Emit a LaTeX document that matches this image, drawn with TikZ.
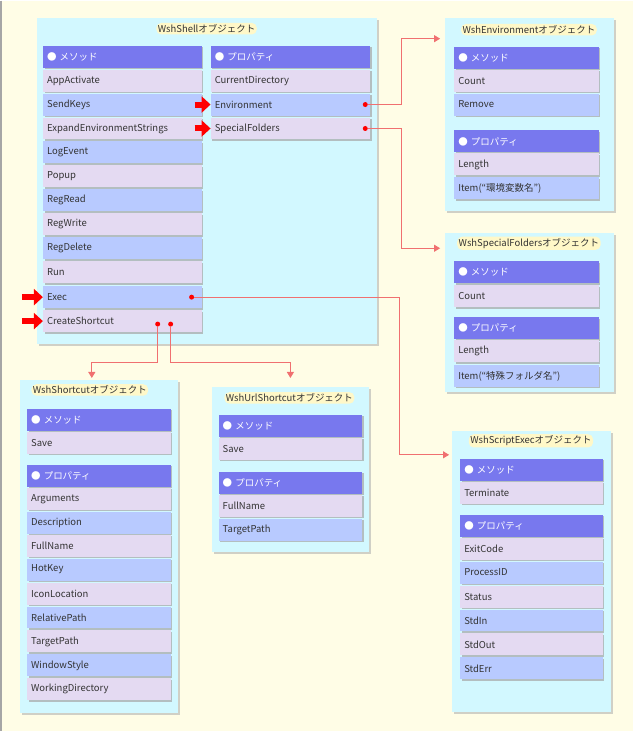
\documentclass[tikz,border=0pt]{standalone}
\usepackage{fontspec}
\setmainfont{Noto Sans CJK JP}
\usetikzlibrary{arrows.meta,shadows}
\definecolor{bg}{HTML}{FFFDE6}
\definecolor{pan}{HTML}{D2F8FF}
\definecolor{hd}{HTML}{7878EE}
\definecolor{lv}{HTML}{E4DAF2}
\definecolor{bl}{HTML}{B8CAFF}
\definecolor{ttl}{HTML}{FFF8C8}
\definecolor{ln}{HTML}{F07070}
\tikzset{
 panel/.style={fill=pan,draw=none,drop shadow={shadow xshift=2pt,shadow yshift=-2pt,fill=black!30,opacity=.6}},
 row/.style={draw=none,anchor=west,inner sep=0pt,align=left,minimum height=22pt,font=\fontsize{9.5}{10}\selectfont,text=black!80,drop shadow={shadow xshift=1.5pt,shadow yshift=-1.5pt,fill=black!35,opacity=.7}},
 ttl/.style={fill=ttl,rounded corners=5pt,inner sep=1.5pt,font=\fontsize{9.5}{10}\selectfont,text=black!80},
 conn/.style={draw=ln,line width=1pt},
 dot/.style={circle,fill=red,inner sep=0pt,minimum size=5pt},
 fat/.style={-{Triangle[length=9pt,width=16pt]},red,line width=6pt},
 tip/.style={-{Triangle[length=6pt,width=7pt]},conn}
}
\newcommand\RR[6]{\path (#2,#4) +(0,0) node[row,fill=#5,minimum width={(#3-#2)*1pt},text width={(#3-#2-8)*1pt}] (#1) {\hspace*{0pt}#6};}
\newcommand\HH[5]{\path (#2,#4) node[row,fill=hd,text=white,minimum width={(#3-#2)*1pt},text width={(#3-#2-8)*1pt}] (#1) {\hspace*{0pt}●#5};}
\begin{document}
\begin{tikzpicture}[x=1pt,y=-1pt,every node/.append style={}]
\fill[bg] (0,0) rectangle (634,732);
\draw[black!35,line width=1.5pt] (1,0) -- (1,732);
\useasboundingbox (0,0) rectangle (634,732);
% panels
\fill[panel] (37,17) rectangle (378,344);
\fill[panel] (446,17) rectangle (615,211);
\fill[panel] (446,233) rectangle (615,392);
\fill[panel] (20,380) rectangle (178,714);
\fill[panel] (212,387) rectangle (370,552);
\fill[panel] (453,431) rectangle (612,713);
\node[ttl] (t1) at (207,28) {WshShellオブジェクト};
\node[ttl] (t2) at (530,29) {WshEnvironmentオブジェクト};
\node[ttl] (t3) at (530,243) {WshSpecialFoldersオブジェクト};
\node[ttl] (t4) at (90,390) {WshShortcutオブジェクト};
\node[ttl] (t5) at (290,398) {WshUrlShortcutオブジェクト};
\node[ttl] (t6) at (532,441) {WshScriptExecオブジェクト};
% WshShell
\HH{m1}{43}{202}{56}{ メソッド}
\RR{a1}{43}{202}{80}{lv}{AppActivate}
\RR{a2}{43}{202}{104}{bl}{SendKeys}
\RR{a3}{43}{202}{128}{lv}{ExpandEnvironmentStrings}
\RR{a4}{43}{202}{152}{bl}{LogEvent}
\RR{a5}{43}{202}{176}{lv}{Popup}
\RR{a6}{43}{202}{200}{bl}{RegRead}
\RR{a7}{43}{202}{224}{lv}{RegWrite}
\RR{a8}{43}{202}{248}{bl}{RegDelete}
\RR{a9}{43}{202}{272}{lv}{Run}
\RR{exec}{43}{202}{297}{bl}{Exec}
\RR{cs}{43}{202}{321}{lv}{CreateShortcut}
\HH{p1}{211}{371}{56}{ プロパティ}
\RR{b1}{211}{371}{80}{lv}{CurrentDirectory}
\RR{env}{211}{371}{104}{bl}{Environment}
\RR{sf}{211}{371}{128}{lv}{SpecialFolders}
% Env
\HH{e0}{455}{600}{57}{ メソッド}
\RR{e1}{455}{600}{80}{lv}{Count}
\RR{e2}{455}{600}{104}{bl}{Remove}
\HH{e3}{455}{600}{141}{ プロパティ}
\RR{e4}{455}{600}{164}{lv}{Length}
\RR{e5}{455}{600}{188}{bl}{Item(“環境変数名”)}
% SF
\HH{s0}{455}{600}{272}{ メソッド}
\RR{s1}{455}{600}{296}{lv}{Count}
\HH{s2}{455}{600}{328}{ プロパティ}
\RR{s3}{455}{600}{351}{lv}{Length}
\RR{s4}{455}{600}{376}{bl}{Item(“特殊フォルダ名”)}
% Shortcut
\HH{c0}{27}{171}{420}{ メソッド}
\RR{c1}{27}{171}{443}{lv}{Save}
\HH{c2}{27}{171}{476}{ プロパティ}
\RR{c3}{27}{171}{499}{lv}{Arguments}
\RR{c4}{27}{171}{523}{bl}{Description}
\RR{c5}{27}{171}{546}{lv}{FullName}
\RR{c6}{27}{171}{570}{bl}{HotKey}
\RR{c7}{27}{171}{594}{lv}{IconLocation}
\RR{c8}{27}{171}{618}{bl}{RelativePath}
\RR{c9}{27}{171}{642}{lv}{TargetPath}
\RR{c10}{27}{171}{666}{bl}{WindowStyle}
\RR{c11}{27}{171}{690}{lv}{WorkingDirectory}
% Url
\HH{u0}{219}{363}{426}{ メソッド}
\RR{u1}{219}{363}{449}{lv}{Save}
\HH{u2}{219}{363}{483}{ プロパティ}
\RR{u3}{219}{363}{506}{lv}{FullName}
\RR{u4}{219}{363}{530}{bl}{TargetPath}
% Exec
\HH{x0}{461}{604}{470}{ メソッド}
\RR{x1}{461}{604}{493}{lv}{Terminate}
\HH{x2}{461}{604}{526}{ プロパティ}
\RR{x3}{461}{604}{549}{lv}{ExitCode}
\RR{x4}{461}{604}{573}{bl}{ProcessID}
\RR{x5}{461}{604}{597}{lv}{Status}
\RR{x6}{461}{604}{621}{bl}{StdIn}
\RR{x7}{461}{604}{645}{lv}{StdOut}
\RR{x8}{461}{604}{669}{bl}{StdErr}
% connectors
\node[dot] (d1) at (366,104) {};
\node[dot] (d2) at (366,128) {};
\node[dot] (d3) at (192,297) {};
\node[dot] (d4) at (158,324) {};
\node[dot] (d5) at (171,324) {};
\coordinate (k1) at (441,38);
\coordinate (k2) at (441,248);
\coordinate (k3) at (450,455);
\coordinate (k4) at (92,378);
\coordinate (k5) at (291,378);
\draw[tip] (d1) -- (402,104) -- (402,38) -- (k1);
\draw[tip] (d2) -- (402,128) -- (402,248) -- (k2);
\draw[tip] (d3) -- (400,297) -- (400,455) -- (k3);
\draw[tip] (d4) -- (158,362) -- (92,362) -- (k4);
\draw[tip] (d5) -- (171,362) -- (291,362) -- (k5);
% fat arrows
\coordinate (f1) at (22,297); \coordinate (f2) at (22,321);
\coordinate (f3) at (195,104); \coordinate (f4) at (195,128);
\draw[fat] (f1) -- (exec.west);
\draw[fat] (f2) -- (cs.west);
\draw[fat] (f3) -- (env.west);
\draw[fat] (f4) -- (sf.west);
\end{tikzpicture}
\end{document}
